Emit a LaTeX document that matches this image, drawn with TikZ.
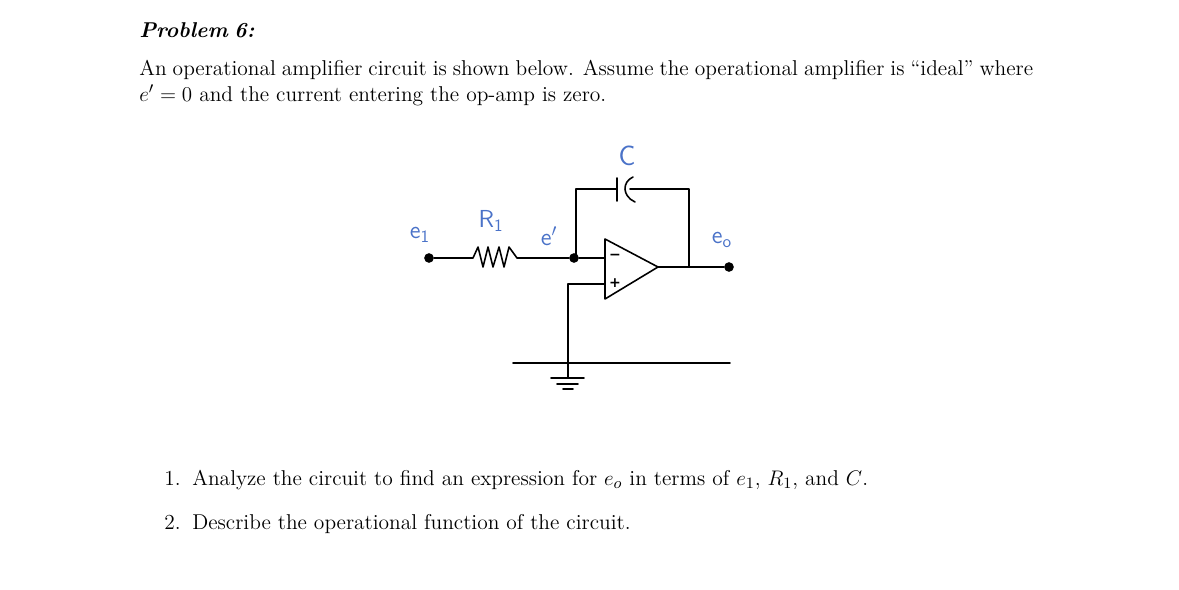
\documentclass[tikz,border=0pt]{standalone}
\usepackage{fontspec}
\newfontfamily\signfont{DejaVu Sans}
\definecolor{penblue}{HTML}{4A72C8}
\tikzset{
  txt/.style={anchor=base west,inner sep=0pt,font=\fontsize{12.2}{14}\selectfont},
  pen/.style={text=penblue,inner sep=0pt,font=\sffamily\fontsize{14}{15}\selectfont},
  opsign/.style={inner sep=0pt,font=\signfont\bfseries\fontsize{8}{8}\selectfont},
  wire/.style={line width=0.9pt,line join=round,line cap=round},
  dot/.style={circle,fill=black,inner sep=0pt,minimum size=5.5pt}
}
\begin{document}
\begin{tikzpicture}[x=0.02cm,y=-0.02cm]
\useasboundingbox (0,0) rectangle (1179,590);
% text of the problem
\node[txt] (title) at (139,38) {\textbf{\textit{Problem\hspace{0.3em}6:}}};
\node[txt] (lineA) at (139,75.5) {\hbox to 17.88cm{An operational amplifier circuit is shown below. Assume the operational amplifier is “ideal” where}};
\node[txt] (lineB) at (139,101.5) {$e' = 0$ and the current entering the op-amp is zero.};
\node[txt] (numA) at (164,485.5) {1.};
\node[txt] (itemA) at (192,485.5) {Analyze the circuit to find an expression for $e_o$ in terms of $e_1$, $R_1$, and $C$.};
\node[txt] (numB) at (164,529.5) {2.};
\node[txt] (itemB) at (192,529.5) {Describe the operational function of the circuit.};
% points of the circuit
\node[dot] (in) at (429,258) {};
\node[dot] (junc) at (574,258) {};
\node[dot] (out) at (729,267) {};
\coordinate (rA) at (473,258);
\coordinate (rB) at (517,258);
\coordinate (opTop) at (605,239);
\coordinate (opBot) at (605,299);
\coordinate (opTip) at (658,267);
\coordinate (minus) at (605,258);
\coordinate (plus) at (605,284);
\coordinate (fbA) at (576,189);
\coordinate (fbB) at (689,189);
\coordinate (fbC) at (689,267);
\coordinate (capA) at (617,189);
\coordinate (capB) at (630,189);
\coordinate (gndA) at (568,284);
\coordinate (gndB) at (568,378);
\coordinate (railA) at (513,363);
\coordinate (railB) at (730,363);
% input and resistor
\draw[wire] (in)--(rA)--(478,247)--(483,267)--(488,247)--(493,267)--(499,247)--(504,267)--(509,247)--(rB)--(junc)--(minus);
% op-amp
\draw[wire] (opTop)--(opTip)--(opBot)--cycle;
\draw[wire] (opTip)--(out);
\node[opsign] (mn) at (615,257) {−};
\node[opsign] (pl) at (615,283) {+};
% feedback with capacitor
\draw[wire] (fbA|-junc)--(fbA)--(capA);
\draw[wire] (617,178)--(617,201);
\draw[wire] (633,177) .. controls (622,182) and (622,196) .. (635,202);
\draw[wire] (capB)--(fbB)--(fbC);
% ground
\draw[wire] (plus)--(gndA)--(gndB);
\draw[wire] (railA)--(railB);
\draw[wire] (551,378)--(584,378);
\draw[wire] (557,384)--(578,384);
\draw[wire] (563,389)--(573,389);
% labels
\node[pen] (lblC) at (627,156) {\fontsize{16}{16}\selectfont C};
\node[pen] (lblR) at (491,221) {R\textsubscript{1}};
\node[pen] (lblP) at (549,236) {e$'$};
\node[pen] (lblI) at (420,235) {e\textsubscript{1}};
\node[pen] (lblO) at (722,240) {e\textsubscript{o}};
\end{tikzpicture}
\end{document}
